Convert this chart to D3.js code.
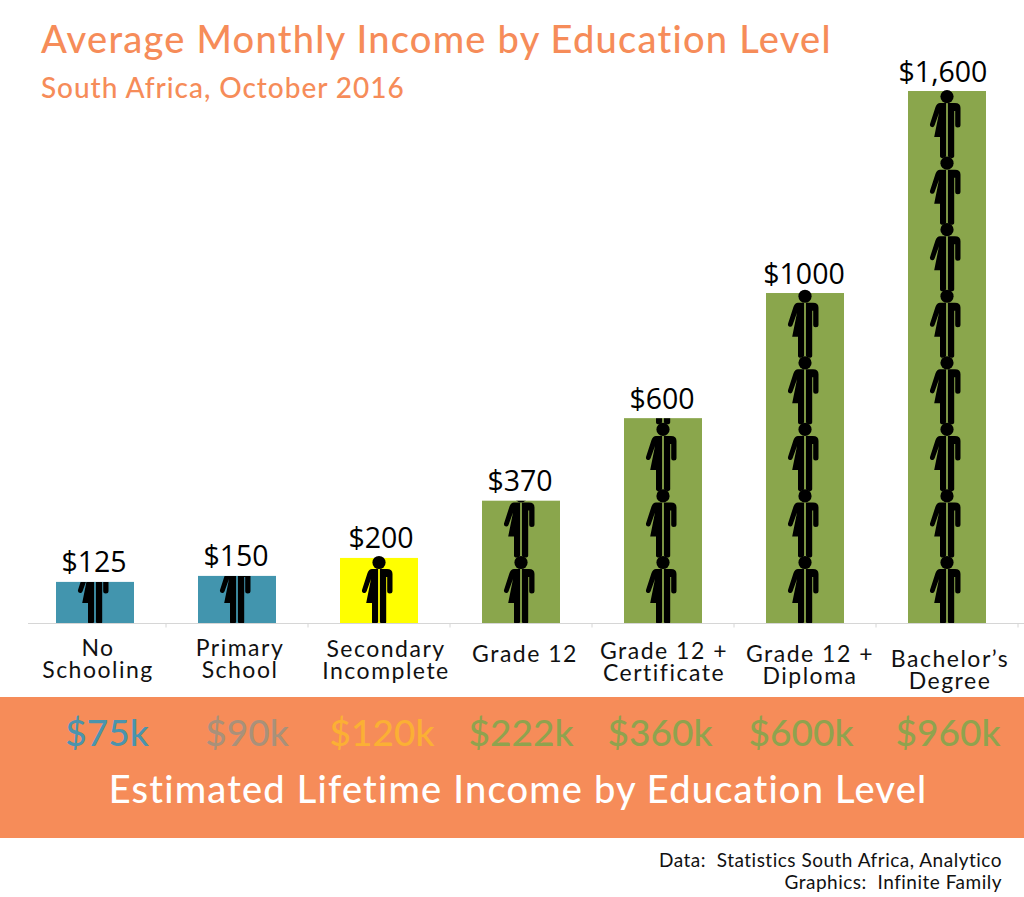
<!DOCTYPE html>
<html>
<head>
<meta charset="utf-8">
<script src="https://cdn.jsdelivr.net/npm/d3@7"></script>
<style>
  html, body { margin: 0; padding: 0; background: #fff; }
  svg { display: block; }
  text { font-family: Lato, "Open Sans", sans-serif; }
</style>
</head>
<body>
<div id="chart"></div>
<script>
// Data
var categories = ["No Schooling", "Primary School", "Secondary Incomplete", "Grade 12",
  "Grade 12 + Certificate", "Grade 12 + Diploma", "Bachelor\u2019s Degree"];
var categoryLines = [["No", "Schooling"], ["Primary", "School"], ["Secondary", "Incomplete"], ["Grade 12"],
  ["Grade 12 +", "Certificate"], ["Grade 12 +", "Diploma"], ["Bachelor\u2019s", "Degree"]];
var monthlyLabels = ["$125", "$150", "$200", "$370", "$600", "$1000", "$1,600"];
var barHeights = [125, 143, 197, 369, 617, 993, 1600];   // as drawn, not quite the printed figures
var lifetimeLabels = ["$75k", "$90k", "$120k", "$222k", "$360k", "$600k", "$960k"];
var barColors = ["#4295ae", "#4295ae", "#ffff00", "#8aa64c", "#8aa64c", "#8aa64c", "#8aa64c"];
var lifetimeColors = ["#4b94ad", "#a9917a", "#fbb034", "#8fa34e", "#8fa34e", "#8fa34e", "#8fa34e"];
var dollarsPerIcon = 200;

var svgWidth = 1024;
var svgHeight = 897;
var orange = "#f68c59";

var svg = d3.select("#chart")
  .append("svg")
  .attr("width", svgWidth)
  .attr("height", svgHeight);

var x = d3.scaleBand()
  .domain(categories)
  .range([24, 1018])
  .paddingInner(64 / 142)
  .paddingOuter(32 / 142);

var y = d3.scaleLinear()
  .domain([0, 1600])
  .range([623.5, 91]);

// titles
svg.append("text")
  .attr("x", 41)
  .attr("y", 53)
  .attr("fill", orange)
  .attr("font-size", 38)
  .attr("font-weight", 500)
  .attr("letter-spacing", 1.25)
  .text("Average Monthly Income by Education Level");

svg.append("text")
  .attr("x", 41)
  .attr("y", 98)
  .attr("fill", orange)
  .attr("font-size", 28)
  .attr("font-weight", 500)
  .attr("letter-spacing", 0.95)
  .text("South Africa, October 2016");

// bars
svg.selectAll(".bar")
  .data(categories)
  .enter()
  .append("rect")
  .attr("class", "bar")
  .attr("x", d => x(d))
  .attr("y", (d, i) => y(barHeights[i]))
  .attr("width", x.bandwidth())
  .attr("height", (d, i) => y(0) - y(barHeights[i]))
  .attr("fill", (d, i) => barColors[i]);

// person icon, feet on (0,0), one icon = $200
var leftHalf = "M-0.9,-55L-7,-55Q-10,-55 -11.5,-51L-17,-34Q-17.5,-31.5 -15,-31Q-13,-30.5 -12.3,-33L-8,-45L-12.8,-21L-7,-21L-7,-2Q-7,0 -4.2,0Q-1.2,0 -0.9,-2Z";
var rightHalf = "M0.9,-55L8,-55Q13.5,-55 13.5,-50L13.5,-33Q13.5,-30.5 10.8,-30.5Q8.2,-30.5 8.2,-33L8.2,-47L7.2,-47L7.2,-2Q7.2,0 4.2,0Q1.2,0 0.9,-2Z";

var defs = svg.append("defs");
categories.forEach(function (cat, i) {
  defs.append("clipPath")
    .attr("id", "clip" + i)
    .append("rect")
    .attr("x", x(cat))
    .attr("y", y(barHeights[i]))
    .attr("width", x.bandwidth())
    .attr("height", y(0) - y(barHeights[i]) + 2);

  var count = Math.ceil(barHeights[i] / dollarsPerIcon);
  var column = svg.append("g");
  var icons = column.selectAll("g")
    .data(d3.range(count))
    .enter()
    .append("g")
    // only icons well past the bar top get cut, a full one may poke its head out
    .attr("clip-path", n => ((n + 1) * dollarsPerIcon - barHeights[i] > 10 ? "url(#clip" + i + ")" : null))
    .append("g")
    .attr("transform", n => `translate(${x(cat) + x.bandwidth() / 2}, ${y(n * dollarsPerIcon) + 0.5})`);

  icons.append("circle").attr("cy", -61.5).attr("r", 6.6).attr("fill", "#000");
  icons.append("path").attr("d", leftHalf).attr("fill", "#000");
  icons.append("path").attr("d", rightHalf).attr("fill", "#000");
});

// axis: line across, ticks between the categories
var axisGroup = svg.append("g")
  .attr("transform", `translate(0, ${y(0)})`)
  .call(d3.axisBottom(x).tickSize(4).tickFormat(""));

axisGroup.select(".domain")
  .attr("d", "M28,0H1024")
  .attr("stroke", "#d6d6d6")
  .attr("stroke-width", 1.2);

axisGroup.selectAll(".tick line")
  .attr("x1", x.step() / 2)
  .attr("x2", x.step() / 2)
  .attr("stroke", "#d6d6d6");

// value labels over the bars
var labelNudge = [-1, -1, 2, -1, -1, -1, -4];
svg.selectAll(".value")
  .data(categories)
  .enter()
  .append("text")
  .attr("class", "value")
  .attr("x", (d, i) => x(d) + x.bandwidth() / 2 + labelNudge[i])
  .attr("y", (d, i) => y(barHeights[i]) - 9.5)
  .attr("text-anchor", "middle")
  .attr("fill", "#000")
  .attr("font-size", 28.5)
  .style("font-family", "'Open Sans'")
  .text((d, i) => monthlyLabels[i]);

// category labels, they drift a bit in the original
var catDx = [3, 3, 7, 4, 1, 5, 3];
var catDy = [656, 656, 657, 662, 659, 662, 667];
svg.selectAll(".cat")
  .data(categories)
  .enter()
  .append("text")
  .attr("class", "cat")
  .attr("text-anchor", "middle")
  .attr("fill", "#111")
  .attr("font-size", 23)
  .attr("letter-spacing", 1.5)
  .each(function (d, i) {
    var cx = x(d) + x.bandwidth() / 2 + catDx[i];
    d3.select(this).selectAll("tspan")
      .data(categoryLines[i])
      .enter()
      .append("tspan")
      .attr("x", cx)
      .attr("y", (line, j) => catDy[i] + j * 22)
      .text(line => line);
  });

// orange band
svg.append("rect")
  .attr("x", 0)
  .attr("y", 697)
  .attr("width", svgWidth)
  .attr("height", 141)
  .attr("fill", orange);

var lifeDx = [12, 10, 3, 0, -3, -4, 1];
svg.selectAll(".life")
  .data(categories)
  .enter()
  .append("text")
  .attr("class", "life")
  .attr("x", (d, i) => x(d) + x.bandwidth() / 2 + lifeDx[i])
  .attr("y", 746)
  .attr("text-anchor", "middle")
  .attr("font-size", 37)
  .attr("font-weight", 500)
  .attr("fill", (d, i) => lifetimeColors[i])
  .text((d, i) => lifetimeLabels[i]);

svg.append("text")
  .attr("x", 518)
  .attr("y", 803)
  .attr("text-anchor", "middle")
  .attr("fill", "#fff")
  .attr("font-size", 38)
  .attr("font-weight", 500)
  .attr("letter-spacing", 1.2)
  .text("Estimated Lifetime Income by Education Level");

// source lines
svg.append("text")
  .attr("x", 1002)
  .attr("y", 867)
  .attr("text-anchor", "end")
  .attr("fill", "#111")
  .attr("font-size", 19)
  .attr("letter-spacing", 0.5)
  .style("white-space", "pre")
  .text("Data:  Statistics South Africa, Analytico");

svg.append("text")
  .attr("x", 1002)
  .attr("y", 889)
  .attr("text-anchor", "end")
  .attr("fill", "#111")
  .attr("font-size", 19)
  .attr("letter-spacing", 0.5)
  .style("white-space", "pre")
  .text("Graphics:  Infinite Family");
</script>
</body>
</html>
